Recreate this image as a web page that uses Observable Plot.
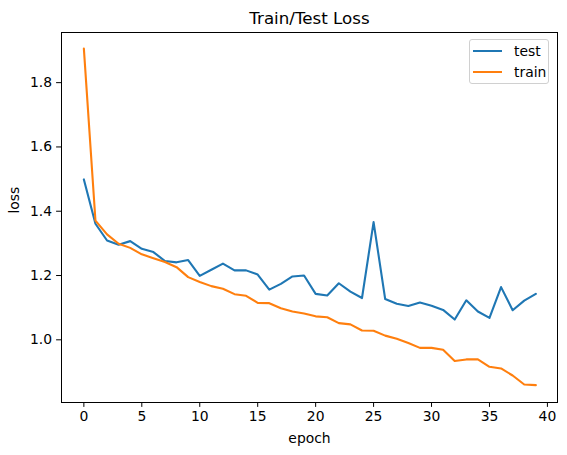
<!DOCTYPE html>
<html>
<head>
<meta charset="utf-8">
<script src="https://cdn.jsdelivr.net/npm/d3@7"></script>
<script src="https://cdn.jsdelivr.net/npm/@observablehq/plot@0.6"></script>
<style>
  body { margin: 0; background: #fff; }
  #wrap { position: relative; width: 567px; height: 455px; font-family: "DejaVu Sans", sans-serif; }
  #legend { position: absolute; left: 469px; top: 39px; width: 80px; height: 45px; border: 1px solid #d0d0d0; border-radius: 3px; background: rgba(255,255,255,0.8); box-sizing: border-box; }
  .item { position: absolute; left: 3px; height: 20px; display: flex; align-items: center; font-size: 13.9px; color: #000; }
  .sw { width: 29px; height: 2px; margin-right: 12px; }
</style>
</head>
<body>
<div id="wrap"></div>
<script>
const title = "Train/Test Loss";
const xLabel = "epoch";
const yLabel = "loss";
const seriesNames = ["test", "train"];
const seriesColors = ["#1f77b4", "#ff7f0e"];
const xTicks = [0, 5, 10, 15, 20, 25, 30, 35, 40];
const yTicks = [1.0, 1.2, 1.4, 1.6, 1.8];
const epochs = d3.range(40);
const testLoss = [1.499, 1.361, 1.309, 1.296, 1.307, 1.283, 1.273, 1.245, 1.241, 1.248,
  1.199, 1.218, 1.237, 1.216, 1.216, 1.203, 1.156, 1.174, 1.197, 1.200,
  1.143, 1.138, 1.176, 1.150, 1.130, 1.366, 1.127, 1.112, 1.105, 1.116,
  1.106, 1.093, 1.063, 1.123, 1.088, 1.068, 1.164, 1.092, 1.122, 1.143];
const trainLoss = [1.906, 1.371, 1.328, 1.299, 1.286, 1.266, 1.254, 1.242, 1.226, 1.195,
  1.180, 1.167, 1.159, 1.142, 1.137, 1.115, 1.114, 1.098, 1.088, 1.082,
  1.073, 1.070, 1.052, 1.048, 1.029, 1.028, 1.013, 1.003, 0.990, 0.975,
  0.975, 0.969, 0.934, 0.939, 0.939, 0.916, 0.911, 0.889, 0.861, 0.859];

const rows = [];
epochs.forEach((e, i) => {
  rows.push({epoch: e, loss: testLoss[i], series: seriesNames[0]});
  rows.push({epoch: e, loss: trainLoss[i], series: seriesNames[1]});
});

const fontFamily = "DejaVu Sans";
const chart = Plot.plot({
  width: 567,
  height: 455,
  marginLeft: 61,
  marginRight: 10,
  marginTop: 32,
  marginBottom: 53,
  style: {fontFamily, fontSize: "13.9px", color: "#000", background: "#fff"},
  x: {domain: [-1.93, 40.87]},
  y: {domain: [0.805, 1.956]},
  color: {domain: seriesNames, range: seriesColors},
  marks: [
    Plot.axisX({ticks: xTicks, tickSize: 4.9, tickPadding: 4, label: null, fontSize: 13.9, stroke: "#000"}),
    Plot.axisY({ticks: yTicks, tickSize: 4.9, tickPadding: 4.5, tickFormat: ".1f", label: null, fontSize: 13.9, stroke: "#000"}),
    Plot.line(rows, {x: "epoch", y: "loss", z: "series", stroke: "series", strokeWidth: 2.1, strokeLinejoin: "round"}),
    Plot.frame({stroke: "#000", strokeWidth: 1}),
    Plot.text([title], {frameAnchor: "top", dy: -9, lineAnchor: "bottom", fontSize: 16.7, fill: "#000"}),
    Plot.text([xLabel], {frameAnchor: "bottom", dy: 36, lineAnchor: "middle", fontSize: 13.9, fill: "#000"}),
    Plot.text([yLabel], {frameAnchor: "left", dx: -47, rotate: -90, lineAnchor: "middle", dy: -4, fontSize: 13.9, fill: "#000"})
  ]
});

const wrap = document.getElementById("wrap");
wrap.appendChild(chart);
const legend = document.createElement("div");
legend.id = "legend";
seriesNames.forEach((name, i) => {
  const item = document.createElement("div");
  item.className = "item";
  item.style.top = (1 + i * 20.5) + "px";
  const sw = document.createElement("span");
  sw.className = "sw";
  sw.style.background = seriesColors[i];
  item.appendChild(sw);
  item.appendChild(document.createTextNode(name));
  legend.appendChild(item);
});
wrap.appendChild(legend);
</script>
</body>
</html>
